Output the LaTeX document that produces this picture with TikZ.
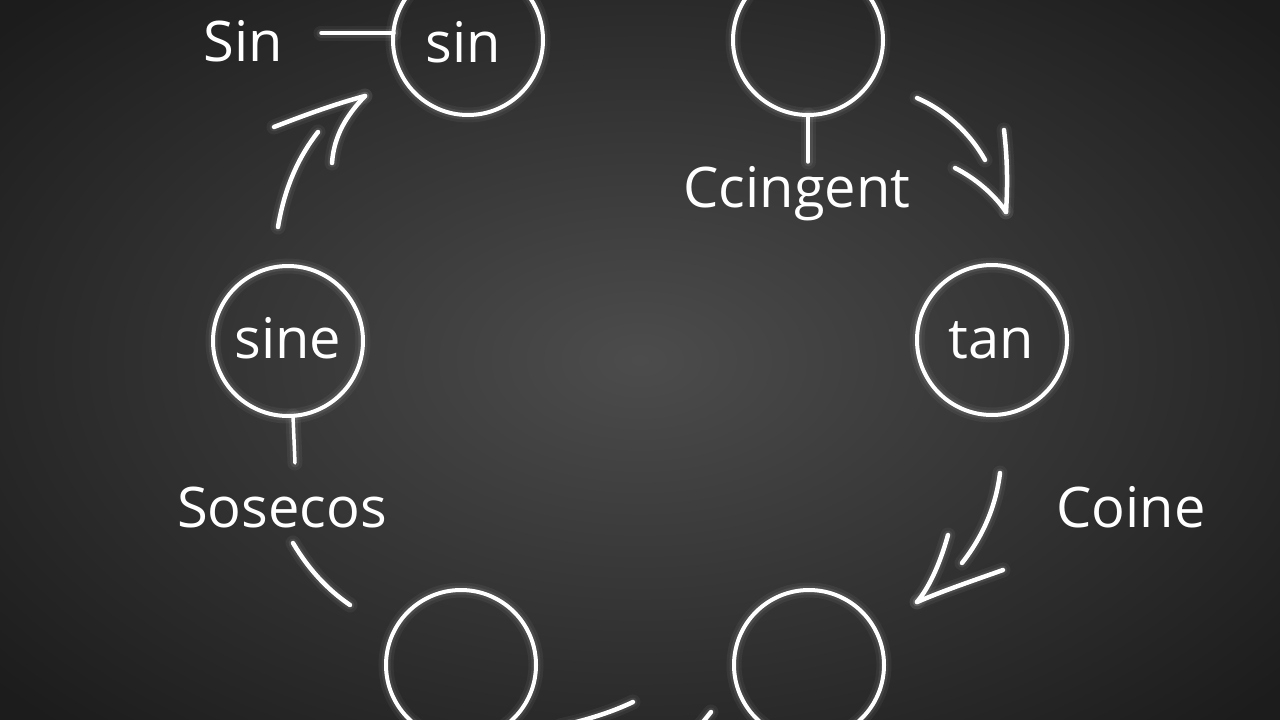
\documentclass[tikz,border=0pt]{standalone}
\usepackage{fontspec}
\setmainfont{Open Sans}
\definecolor{bgin}{RGB}{76,76,76}
\definecolor{bgout}{RGB}{28,28,28}
\tikzset{
  glow/.style={
    preaction={draw=white, draw opacity=0.05, line width=15pt, line cap=round},
    preaction={draw=white, draw opacity=0.08, line width=9pt, line cap=round}},
  ring/.style={circle, draw=white, line width=4pt, minimum size=150pt, inner sep=0pt, glow},
  stroke/.style={draw=white, line width=4.5pt, line cap=round, glow},
  txt/.style={text=white, font=\fontsize{56}{60}\selectfont, inner sep=0pt, anchor=base}
}
\begin{document}
\begin{tikzpicture}[x=1pt, y=-1pt]
\useasboundingbox (0,0) rectangle (1280,720);
\shade[inner color=bgin, outer color=bgout] (-200,-150) rectangle (1480,870);

% circles
\node[ring] (n1) at (468,40) {};
\node[ring] (n2) at (808,40) {};
\node[ring] (n3) at (992,340) {};
\node[ring] (n4) at (809,665) {};
\node[ring] (n5) at (461,665) {};
\node[ring] (n6) at (288,341) {};

% texts
\node[txt] (tsin) at (463,62) {sin};
\node[txt] (ttan) at (991,358) {tan};
\node[txt] (tsine) at (288,358) {sine};
\node[txt] (lSin) at (243,61) {Sin};
\node[txt] (lCc) at (797,207) {Ccingent};
\node[txt] (lCoine) at (1131,527) {Coine};
\node[txt] (lSos) at (282,527) {Sosecos};

% stems
\coordinate (s1a) at (321,33);
\coordinate (s1b) at (394,33);
\draw[stroke, line width=3.5pt] (s1a) -- (s1b);
\coordinate (s2a) at (808,115);
\coordinate (s2b) at (808,162);
\draw[stroke, line width=3.5pt] (s2a) -- (s2b);
\coordinate (s3a) at (293,416);
\coordinate (s3b) at (295,463);
\draw[stroke, line width=3.5pt] (s3a) -- (s3b);

% arrow top-left
\draw[stroke] (278,227) .. controls (285,185) and (300,155) .. (318,132);
\draw[stroke] (274,127) .. controls (305,115) and (335,104) .. (365,96);
\draw[stroke] (365,96) .. controls (347,115) and (334,135) .. (332,163);

% arrow top-right
\draw[stroke] (917,98) .. controls (945,110) and (970,133) .. (985,160);
\draw[stroke] (955,168) .. controls (975,178) and (995,195) .. (1006,212);
\draw[stroke] (1006,212) .. controls (1008,182) and (1007,155) .. (1004,130);

% arrow right-bottom
\draw[stroke] (1000,473) .. controls (996,505) and (984,535) .. (962,563);
\draw[stroke] (948,535) .. controls (941,560) and (931,585) .. (917,602);
\draw[stroke] (917,602) .. controls (945,590) and (975,580) .. (1003,570);

% arc left-bottom
\draw[stroke] (293,543) .. controls (309,570) and (328,590) .. (350,605);

% bottom pieces
\draw[stroke] (633,702) .. controls (612,712) and (590,719) .. (560,726);
\draw[stroke] (699,727) -- (711,712);
\end{tikzpicture}
\end{document}
